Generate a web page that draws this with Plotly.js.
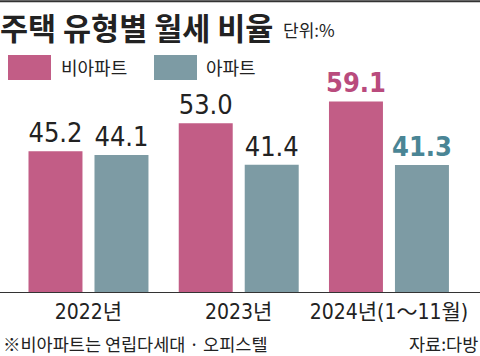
<!DOCTYPE html>
<html>
<head>
<meta charset="utf-8">
<script src="https://cdn.plot.ly/plotly-3.0.1.min.js"></script>
<style>html,body{margin:0;padding:0;background:#fff}#chart{width:480px;height:356px}</style>
</head>
<body>
<div id="chart"></div>
<script>
const categories = ['2022년', '2023년', '2024년(1～11월)'];
const nonApartment = [45.2, 53.0, 59.1];
const apartment = [44.1, 41.4, 41.3];
const seriesNames = ['비아파트', '아파트'];

const PINK = '#c25d86', TEAL = '#7d9ba4';
const NUMFONT = 'DejaVu Sans Condensed, Liberation Sans Narrow, sans-serif';
const KRFONT = 'Noto Sans CJK KR, Noto Sans, sans-serif';

// pixel -> paper helpers (plot area top 90, bottom 292.5)
const T = 90, B = 292.5, H = B - T;
const py = p => (B - p) / H;
const px = p => p / 480;
const label = (v, i) => i === 2 ? '<b>' + v.toFixed(1) + '</b>' : v.toFixed(1);

const traces = [
  {type:'bar', name:seriesNames[0], x:categories, y:nonApartment,
   marker:{color:PINK}, text:nonApartment.map(label), textposition:'outside',
   outsidetextfont:{family:NUMFONT, size:27, stretch:'condensed', color:['#222','#222','#b94b7d']},
   constraintext:'none', cliponaxis:false, hoverinfo:'none'},
  {type:'bar', name:seriesNames[1], x:categories, y:apartment,
   marker:{color:TEAL}, text:apartment.map(label), textposition:'outside',
   outsidetextfont:{family:NUMFONT, size:27, stretch:'condensed', color:['#222','#222','#4a8595']},
   constraintext:'none', cliponaxis:false, hoverinfo:'none'}
];

const layout = {
  width:480, height:356,
  margin:{l:0, r:0, t:T, b:356-B, pad:0},
  paper_bgcolor:'#fff', plot_bgcolor:'#fff',
  showlegend:false,
  barmode:'group', bargap:0.1215, bargroupgap:0.182,
  xaxis:{type:'category', range:[-0.589, 2.606], showgrid:false, zeroline:false,
    showline:true, linecolor:'#333', linewidth:1, ticks:'',
    ticklabelstandoff:1,
    tickfont:{family:NUMFONT+', '+KRFONT, size:21, stretch:'condensed', color:'#222'}},
  yaxis:{range:[5.8, 5.8 + H/3.584], visible:false, showgrid:false, zeroline:false, fixedrange:true},
  shapes:[
    {type:'line', xref:'paper', yref:'paper', x0:0, x1:1, y0:py(1), y1:py(1), line:{color:'#333', width:2}},
    {type:'rect', xref:'paper', yref:'paper', x0:px(8), x1:px(51), y0:py(80), y1:py(55), fillcolor:PINK, line:{width:0}},
    {type:'rect', xref:'paper', yref:'paper', x0:px(154), x1:px(197), y0:py(80), y1:py(55), fillcolor:TEAL, line:{width:0}}
  ],
  annotations:[
    {text:'<b>주택 유형별 월세 비율</b>', xref:'paper', yref:'paper', x:px(-2), y:py(27), xanchor:'left', yanchor:'middle', showarrow:false,
     font:{family:KRFONT, size:30.5, color:'#222'}},
    {text:'단위:%', xref:'paper', yref:'paper', x:px(281), y:py(29), xanchor:'left', yanchor:'middle', showarrow:false,
     font:{family:KRFONT, size:17, color:'#222'}},
    {text:seriesNames[0], xref:'paper', yref:'paper', x:px(59), y:py(67), xanchor:'left', yanchor:'middle', showarrow:false,
     font:{family:KRFONT, size:18, color:'#222'}},
    {text:seriesNames[1], xref:'paper', yref:'paper', x:px(204), y:py(67), xanchor:'left', yanchor:'middle', showarrow:false,
     font:{family:KRFONT, size:18, color:'#222'}},
    {text:'※비아파트는 연립다세대 · 오피스텔', xref:'paper', yref:'paper', x:px(1), y:py(344), xanchor:'left', yanchor:'middle', showarrow:false,
     font:{family:KRFONT, size:17.5, color:'#222'}},
    {text:'자료:다방', xref:'paper', yref:'paper', x:px(480), y:py(344), xanchor:'right', yanchor:'middle', showarrow:false,
     font:{family:KRFONT, size:17.5, color:'#222'}}
  ]
};

Plotly.newPlot('chart', traces, layout, {staticPlot:true, displayModeBar:false});
</script>
</body>
</html>
